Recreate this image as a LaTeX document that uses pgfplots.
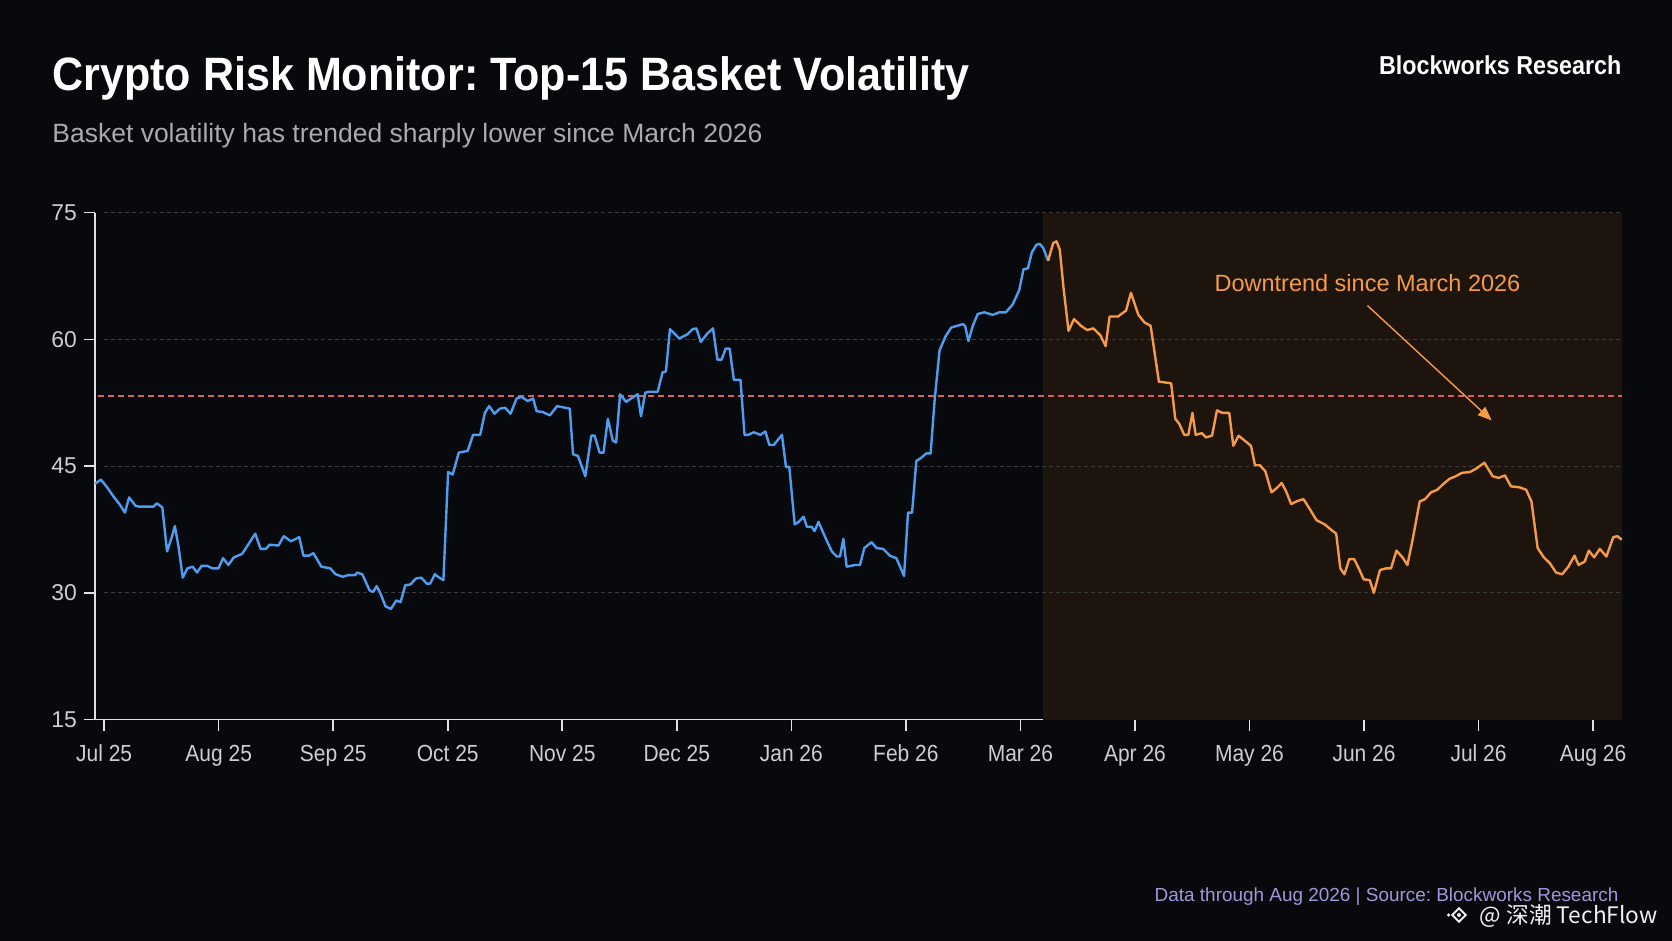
\documentclass[border=0pt]{standalone}
\usepackage{fontspec}
\usepackage{pgfplots}
\pgfplotsset{compat=1.18}
\usetikzlibrary{arrows.meta}
\setmainfont{Liberation Sans}
\newfontfamily\condfont{Liberation Sans}[FakeStretch=0.9]
\newfontfamily\titlefont{Liberation Sans}[FakeStretch=0.92]
\newfontfamily\cjkfont{Noto Sans CJK SC}
\definecolor{bg}{HTML}{08090C}
\definecolor{shadec}{HTML}{1D150D}
\definecolor{bluec}{HTML}{4F9DF0}
\definecolor{orangec}{HTML}{F69A48}
\definecolor{meanc}{HTML}{D9605C}
\definecolor{gridc}{HTML}{3A3A3E}
\definecolor{axisc}{HTML}{E2E2E4}
\definecolor{tickc}{HTML}{CDCDD2}
\definecolor{subc}{HTML}{A9A9B2}
\definecolor{footc}{HTML}{A097DA}
\frenchspacing

\pgfplotstableread{
m v
-0.080 42.9
-0.028 43.4
0.025 42.5
0.087 41.3
0.134 40.5
0.181 39.5
0.218 41.3
0.274 40.3
0.306 40.2
0.430 40.2
0.461 40.6
0.508 40.1
0.549 34.9
0.586 36.4
0.617 37.9
0.649 35.5
0.686 31.8
0.727 32.9
0.773 33.1
0.811 32.4
0.851 33.2
0.898 33.2
0.945 32.9
0.998 32.9
1.038 34.1
1.085 33.3
1.132 34.2
1.204 34.6
1.257 35.7
1.319 37.0
1.366 35.2
1.413 35.2
1.444 35.7
1.522 35.6
1.568 36.7
1.631 36.1
1.703 36.6
1.740 34.4
1.787 34.4
1.827 34.7
1.896 33.1
1.974 32.9
2.021 32.2
2.083 31.9
2.130 32.1
2.192 32.1
2.208 32.4
2.254 32.2
2.317 30.3
2.348 30.1
2.379 30.8
2.410 30.0
2.457 28.4
2.504 28.1
2.551 29.1
2.588 28.9
2.629 30.9
2.675 31.0
2.722 31.7
2.769 31.8
2.816 31.1
2.847 31.1
2.887 32.2
2.925 31.8
2.962 31.5
3.003 44.3
3.043 44.0
3.096 46.6
3.174 46.8
3.221 48.7
3.283 48.7
3.324 51.3
3.361 52.1
3.408 51.2
3.455 51.8
3.502 51.9
3.548 51.2
3.601 53.0
3.642 53.2
3.698 52.7
3.745 53.0
3.776 51.5
3.829 51.4
3.892 51.0
3.954 52.1
4.065 51.8
4.094 46.4
4.137 46.2
4.201 43.8
4.253 48.6
4.282 48.6
4.326 46.6
4.360 46.6
4.398 50.6
4.441 48.0
4.470 47.8
4.505 53.5
4.557 52.6
4.601 53.0
4.658 53.5
4.687 50.9
4.725 53.7
4.760 53.8
4.833 53.8
4.876 56.1
4.905 56.2
4.940 61.2
4.978 60.7
5.021 60.1
5.093 60.6
5.137 61.2
5.171 61.3
5.209 59.7
5.267 60.7
5.316 61.3
5.354 57.6
5.391 57.6
5.426 58.9
5.461 58.9
5.498 55.2
5.556 55.2
5.591 48.7
5.623 48.7
5.672 49.0
5.730 48.7
5.773 49.1
5.808 47.5
5.846 47.5
5.918 48.7
5.953 44.9
5.982 44.9
6.029 38.1
6.064 38.4
6.107 39.0
6.136 37.8
6.179 37.8
6.202 37.3
6.237 38.4
6.295 36.6
6.353 34.9
6.396 34.3
6.425 34.3
6.454 36.4
6.483 33.1
6.556 33.3
6.599 33.3
6.637 35.3
6.700 36.0
6.744 35.3
6.802 35.2
6.860 34.4
6.917 34.1
6.984 32.0
7.019 39.5
7.054 39.5
7.091 45.6
7.135 46.0
7.178 46.5
7.216 46.5
7.251 52.8
7.294 58.7
7.344 60.3
7.396 61.4
7.497 61.8
7.517 61.6
7.546 59.8
7.584 61.6
7.627 63.0
7.685 63.2
7.758 62.9
7.815 63.2
7.873 63.2
7.931 64.1
7.989 65.8
8.027 68.3
8.065 68.4
8.100 70.3
8.140 71.2
8.170 71.3
8.200 70.8
8.242 69.3
}\bluedata

\pgfplotstableread{
m v
8.242 69.3
8.286 71.4
8.315 71.6
8.344 70.6
8.377 66.0
8.420 61.0
8.468 62.4
8.529 61.6
8.583 61.1
8.636 61.3
8.697 60.5
8.744 59.2
8.779 62.7
8.851 62.7
8.922 63.4
8.965 65.5
9.030 62.9
9.083 62.0
9.137 61.6
9.209 55.0
9.262 54.9
9.316 54.8
9.352 50.6
9.387 50.0
9.430 48.7
9.466 48.7
9.502 51.3
9.530 48.7
9.584 48.9
9.620 48.4
9.673 48.6
9.716 51.6
9.763 51.3
9.823 51.3
9.859 47.4
9.905 48.6
9.959 48.0
10.013 47.4
10.048 45.1
10.091 45.1
10.138 44.4
10.192 41.9
10.238 42.4
10.281 43.0
10.317 42.1
10.364 40.5
10.406 40.8
10.471 41.1
10.532 39.8
10.585 38.6
10.657 38.1
10.728 37.3
10.757 37.0
10.793 32.9
10.829 32.2
10.871 34.0
10.914 34.0
10.961 32.7
10.997 31.6
11.050 31.5
11.086 30.0
11.139 32.7
11.193 32.9
11.236 32.9
11.283 35.0
11.336 34.2
11.379 33.3
11.426 36.4
11.486 40.8
11.533 41.1
11.586 41.9
11.640 42.2
11.694 42.9
11.747 43.5
11.801 43.8
11.854 44.2
11.926 44.3
11.979 44.7
12.051 45.4
12.123 43.8
12.176 43.6
12.230 43.9
12.283 42.6
12.355 42.5
12.416 42.2
12.462 40.8
12.516 35.3
12.570 34.2
12.623 33.5
12.677 32.4
12.730 32.2
12.784 33.1
12.838 34.4
12.873 33.3
12.927 33.7
12.963 35.0
13.009 34.2
13.059 35.2
13.116 34.3
13.177 36.6
13.213 36.7
13.250 36.3
}\orangedata

\begin{document}
\begin{tikzpicture}
\fill[bg] (0,0) rectangle (836bp,470.5bp);
\node[anchor=base west, inner sep=0, text=white, font=\titlefont\bfseries\fontsize{23.5}{28}\selectfont] at (26bp,425bp) {Crypto Risk Monitor: Top-15 Basket Volatility};
\node[anchor=base west, inner sep=0, text=subc, font=\fontsize{13.3}{16}\selectfont] at (26bp,399.2bp) {Basket volatility has trended sharply lower since March 2026};
\node[anchor=base east, inner sep=0, text=white, font=\condfont\bfseries\fontsize{13}{16}\selectfont] at (810.9bp,433bp) {Blockworks Research};
\node[anchor=base east, inner sep=0, text=footc, font=\fontsize{9.5}{12}\selectfont] at (809.4bp,19.6bp) {Data through Aug 2026 | Source: Blockworks Research};

\begin{axis}[
  at={(47.5bp,110.7bp)}, anchor=south west,
  scale only axis, width=763.35bp, height=253.5bp,
  xmin=-0.08, xmax=13.25, ymin=15, ymax=75,
  axis x line=bottom, axis y line=left,
  axis line style={-, draw=axisc, line width=0.8bp},
  tick align=outside, major tick length=5.5bp,
  tick style={draw=axisc, line width=0.8bp},
  xtick={0,1,2,3,4,5,6,7,8,9,10,11,12,13},
  xticklabels={Jul 25,Aug 25,Sep 25,Oct 25,Nov 25,Dec 25,Jan 26,Feb 26,Mar 26,Apr 26,May 26,Jun 26,Jul 26,Aug 26},
  ytick={15,30,45,60,75},
  xticklabel style={font=\condfont\fontsize{11.7}{13}\selectfont, text=tickc, text height=8.6bp, text depth=2.6bp, yshift=-3.5bp},
  yticklabel style={font=\fontsize{11.5}{13}\selectfont, text=tickc},
  /pgf/number format/assume math mode=true,
  clip=false,
]
\addplot[fill=shadec, draw=none] coordinates {(8.2,15) (13.25,15) (13.25,75) (8.2,75)} -- cycle;
\addplot[gridc, line width=0.5bp, dash pattern=on 2bp off 1.5bp] coordinates {(0,30) (13.25,30)};
\addplot[gridc, line width=0.5bp, dash pattern=on 2bp off 1.5bp] coordinates {(0,45) (13.25,45)};
\addplot[gridc, line width=0.5bp, dash pattern=on 2bp off 1.5bp] coordinates {(0,60) (13.25,60)};
\addplot[gridc, line width=0.5bp, dash pattern=on 2bp off 1.5bp] coordinates {(0,75) (13.25,75)};
\addplot[meanc, line width=0.8bp, dash pattern=on 3bp off 2bp] coordinates {(-0.05,53.3) (13.25,53.3)};
\addplot[bluec, line width=1.2bp, line join=round] table[x=m,y=v] {\bluedata};
\addplot[orangec, line width=1.2bp, line join=round] table[x=m,y=v] {\orangedata};
\node[anchor=base, text=orangec, font=\fontsize{11.8}{14}\selectfont] at (axis cs:11.03,65.7) {Downtrend since March 2026};
\draw[orangec, line width=0.7bp, -{Triangle[length=7bp,width=5.5bp]}] (axis cs:11.03,64.0) -- (axis cs:12.115,50.4);
\end{axis}

% watermark
\begin{scope}[shift={(729.5bp,13bp)}]
\draw[white!85!gray, line width=1bp] (0,3.4bp) -- (3.4bp,0) -- (0,-3.4bp) -- (-3.4bp,0) -- cycle;
\fill[white!85!gray] (-5.2bp,0) circle (0.9bp);
\fill[white!85!gray] (0,0) circle (1bp);
\end{scope}
\node[anchor=base west, inner sep=0, text=white!88!gray, font=\cjkfont\fontsize{11.4}{14}\selectfont] at (739.7bp,9bp) {@ 深潮 TechFlow};

\pgfresetboundingbox
\path[use as bounding box] (0,0) rectangle (836bp,470.5bp);
\end{tikzpicture}
\end{document}
